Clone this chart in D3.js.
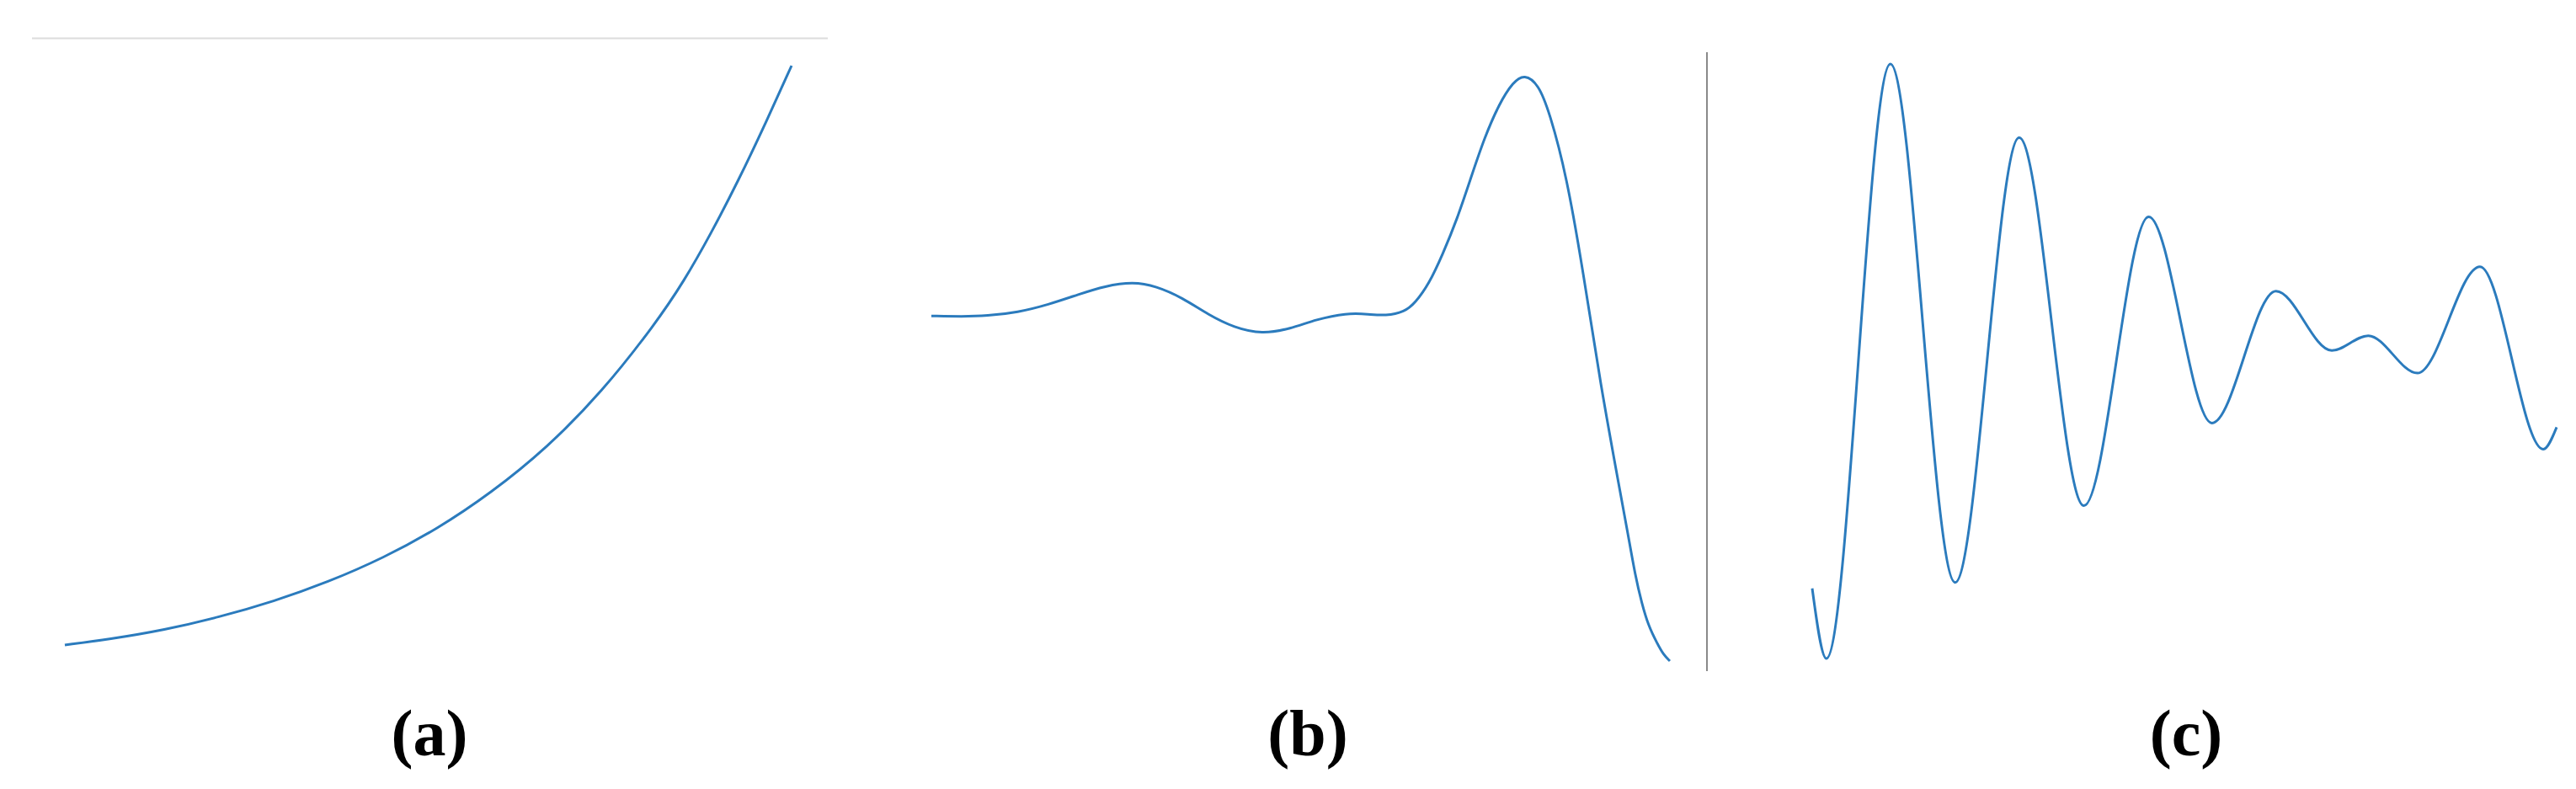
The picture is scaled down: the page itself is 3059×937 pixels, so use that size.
<!DOCTYPE html>
<html>
<head>
<meta charset="utf-8">
<script src="https://cdn.jsdelivr.net/npm/d3@7/dist/d3.min.js"></script>
<style>
html,body{margin:0;padding:0;background:#fff;}
svg{display:block;}
</style>
</head>
<body>
<svg id="chart" width="3059" height="937"></svg>
<script>
// Panel (a): exponential-like growth
const aX = [0, 6.1, 13.7, 21.2, 28.7, 36.3, 43.8, 51.2, 58.7, 66.3, 73.8, 81.3, 85.2, 88.9, 92.7, 96.4, 100];
const aY = [0, 1.0, 2.6, 4.8, 7.5, 10.9, 15.0, 20.0, 26.3, 34.0, 43.5, 55.5, 62.8, 71.0, 80.2, 90.0, 100];

// Panel (b): flat ripple then large peak and drop
const bX = [0, 4.2, 7.5, 11.7, 15.8, 20.0, 23.5, 27.3, 30.4, 34.0, 37.5, 41.0, 44.8, 48.6, 52.1, 56.2, 59.2, 61.5, 64.1, 65.5, 67.4, 69.2, 71.2, 73.1, 74.9, 76.9, 78.8, 80.3, 82.2, 83.7, 86.0, 88.3, 90.5, 93.6, 94.3, 95.3, 96.2, 97.1, 98.2, 99.1, 100];
const bY = [58.8, 58.7, 58.8, 59.4, 60.7, 62.5, 63.9, 64.6, 63.9, 61.9, 59.0, 56.8, 55.7, 56.6, 58.2, 59.3, 59.1, 58.8, 59.5, 61.0, 64.3, 69.2, 75.3, 82.5, 89.2, 95.0, 98.7, 100, 98.3, 93.5, 82.8, 66.0, 47.8, 26.5, 21.8, 14.6, 9.8, 6.0, 3.2, 1.1, 0];

// Panel (c): damped oscillation (turning points)
const cX = [0, 1.9, 10.5, 19.2, 27.8, 36.5, 45.2, 53.7, 62.3, 69.8, 74.7, 81.3, 89.7, 98.2, 100];
const cY = [11.8, 0, 100, 12.8, 87.6, 25.7, 74.3, 39.6, 61.8, 51.8, 54.3, 48.0, 65.9, 35.2, 38.9];

const panelLabels = ["(a)", "(b)", "(c)"];

const svg = d3.select("#chart");
const lineColor = "#2b7bbd";

const panels = [
  {x: aX, y: aY, xr: [77, 940], yr: [766, 78], label: panelLabels[0], lx: 510, curve: d3.curveBasis},
  {x: bX, y: bY, xr: [1106, 1983], yr: [785, 88], label: panelLabels[1], lx: 1553, curve: d3.curveBasis},
  {x: cX, y: cY, xr: [2152, 3036], yr: [782, 76], label: panelLabels[2], lx: 2596, curve: d3.curveMonotoneX}
];

// decorative rules
svg.append("line").attr("x1", 38).attr("x2", 983).attr("y1", 45.5).attr("y2", 45.5)
  .attr("stroke", "#dcdcdc").attr("stroke-width", 2);
svg.append("line").attr("x1", 2027).attr("x2", 2027).attr("y1", 62).attr("y2", 797)
  .attr("stroke", "#8a8a8a").attr("stroke-width", 2);

panels.forEach(p => {
  const xs = d3.scaleLinear().domain([0, 100]).range(p.xr);
  const ys = d3.scaleLinear().domain([0, 100]).range(p.yr);
  const data = p.x.map((v, i) => [v, p.y[i]]);
  const line = d3.line().x(d => xs(d[0])).y(d => ys(d[1])).curve(p.curve);
  svg.append("path").datum(data).attr("d", line)
    .attr("fill", "none").attr("stroke", lineColor).attr("stroke-width", 3)
    .attr("stroke-linejoin", "round").attr("stroke-linecap", "butt");
  svg.append("text").attr("x", p.lx).attr("y", 897)
    .attr("text-anchor", "middle")
    .attr("font-family", "'Liberation Serif', 'Times New Roman', serif")
    .attr("font-weight", "bold").attr("font-size", 78)
    .attr("fill", "#000").text(p.label);
});
</script>
</body>
</html>
